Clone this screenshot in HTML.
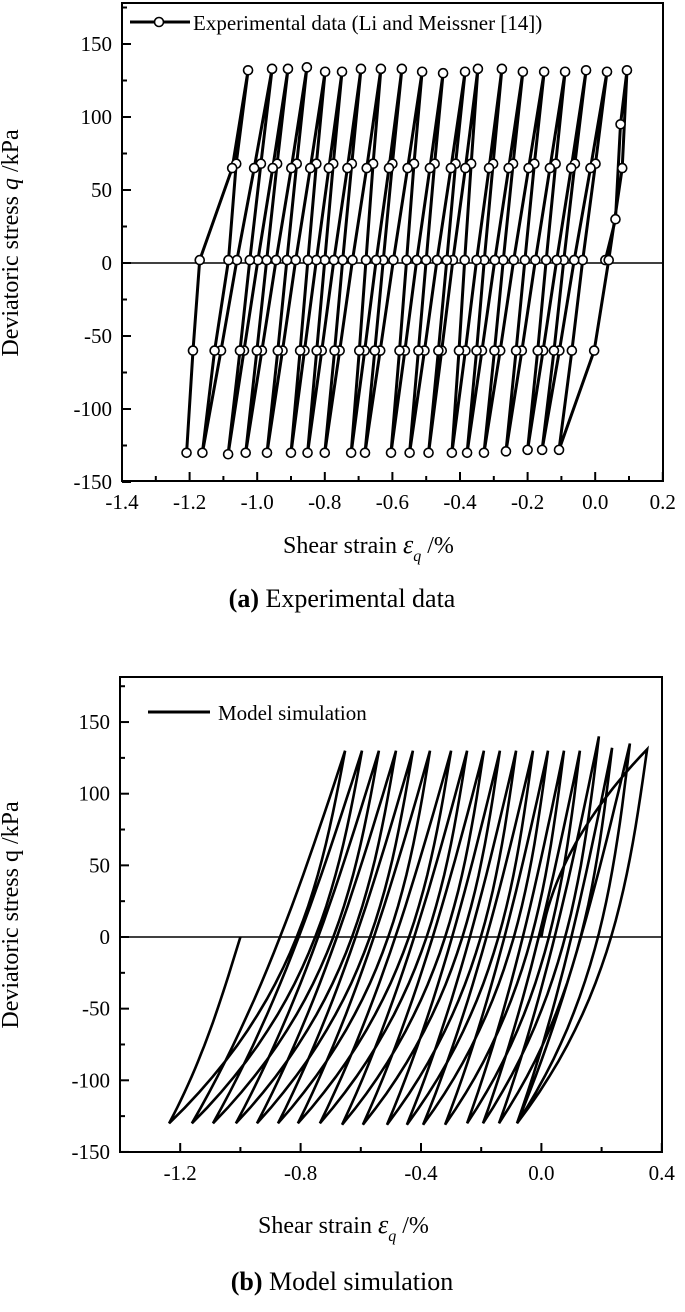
<!DOCTYPE html>
<html><head><meta charset="utf-8"><style>
html,body{margin:0;padding:0;background:#fff;}
svg{display:block;font-family:"Liberation Serif",serif;}
</style></head><body>
<svg id="fig" width="685" height="1312" viewBox="0 0 685 1312" xmlns="http://www.w3.org/2000/svg">
<g id="chartA"></g>
<g id="chartB"></g>
<text x="18" y="243" font-size="24" text-anchor="middle" transform="rotate(-90 18 243)">Deviatoric stress <tspan font-style="italic">q</tspan> /kPa</text>
<text x="283" y="553" font-size="24">Shear strain <tspan font-style="italic" font-size="26">ε</tspan><tspan font-style="italic" font-size="16" dy="8">q</tspan><tspan dy="-8"> /%</tspan></text>
<text x="342" y="607" font-size="26" text-anchor="middle"><tspan font-weight="bold">(a)</tspan> Experimental data</text>
<text x="18" y="915" font-size="24" text-anchor="middle" transform="rotate(-90 18 915)">Deviatoric stress q /kPa</text>
<text x="258" y="1233" font-size="24">Shear strain <tspan font-style="italic" font-size="26">ε</tspan><tspan font-style="italic" font-size="16" dy="8">q</tspan><tspan dy="-8"> /%</tspan></text>
<text x="342" y="1290" font-size="26" text-anchor="middle"><tspan font-weight="bold">(b)</tspan> Model simulation</text>
</svg>
<script>
// ---- Chart A data (experimental) ----
const aPeaks = [-1.027,-0.956,-0.909,-0.853,-0.799,-0.749,-0.693,-0.634,-0.572,-0.512,-0.450,-0.385,-0.347,-0.276,-0.214,-0.151,-0.089,-0.027,0.035,0.094];
const aPeakQ = [132,133,133,134,131,131,133,133,133,131,130,131,133,133,131,131,131,132,131,132];
const aBottoms = [-1.209,-1.162,-1.086,-1.034,-0.971,-0.900,-0.851,-0.800,-0.722,-0.681,-0.604,-0.549,-0.493,-0.424,-0.379,-0.329,-0.264,-0.200,-0.157,-0.107];
const aBottomQ = [-130,-130,-131,-130,-130,-130,-130,-130,-130,-130,-130,-130,-130,-130,-130,-130,-129,-128,-128,-128];
const aDown65 = [-1.074,-1.009,-0.954,-0.899,-0.843,-0.788,-0.733,-0.676,-0.610,-0.555,-0.489,-0.427,-0.384,-0.314,-0.256,-0.197,-0.134,-0.071,-0.014,0.080];
const aDown0 = [-1.170,-1.060,-0.998,-0.944,-0.886,-0.825,-0.773,-0.718,-0.648,-0.597,-0.528,-0.468,-0.421,-0.351,-0.297,-0.241,-0.177,-0.114,-0.062,0.040];
const aDownM60 = [-1.190,-1.107,-1.039,-0.986,-0.925,-0.860,-0.809,-0.756,-0.682,-0.636,-0.563,-0.505,-0.454,-0.384,-0.335,-0.281,-0.217,-0.154,-0.106,-0.003];
const aUpM60 = [-1.126,-1.051,-1.001,-0.939,-0.873,-0.824,-0.771,-0.698,-0.652,-0.579,-0.523,-0.464,-0.403,-0.351,-0.298,-0.234,-0.170,-0.122,-0.069];
const aUp0 = [-1.085,-1.022,-0.972,-0.912,-0.850,-0.800,-0.747,-0.678,-0.627,-0.558,-0.500,-0.439,-0.386,-0.328,-0.272,-0.208,-0.145,-0.093,-0.037];
const aUp65 = [-1.062,-0.989,-0.941,-0.883,-0.825,-0.775,-0.720,-0.657,-0.600,-0.536,-0.475,-0.413,-0.367,-0.302,-0.243,-0.180,-0.117,-0.060,0.001];
const aStartX = [0.030,0.060,0.075];
const aStartQ = [2,30,95];
const aXTicks = [-1.4,-1.2,-1.0,-0.8,-0.6,-0.4,-0.2,0.0,0.2];
const aXLabels = ["-1.4","-1.2","-1.0","-0.8","-0.6","-0.4","-0.2","0.0","0.2"];
const aYTicks = [-150,-100,-50,0,50,100,150];

// ---- Chart B data (model) ----
const bTops = [-0.652,-0.596,-0.540,-0.483,-0.427,-0.370,-0.300,-0.247,-0.191,-0.138,-0.084,-0.028,0.022,0.075,0.128,0.191,0.235,0.294,0.351];
const bTopQ = [130,130,130,130,130,130,130,130,130,130,130,130,130,130,130,140,132,135,131];
const bBottoms = [-1.237,-1.161,-1.091,-1.015,-0.945,-0.875,-0.809,-0.736,-0.662,-0.593,-0.513,-0.447,-0.393,-0.320,-0.247,-0.194,-0.141,-0.081,-0.081];
const bBottomQ = [-130,-130,-130,-130,-130,-130,-130,-130,-131,-131,-131,-131,-131,-131,-130,-130,-130,-130,-130];
const bStart = [0.0, 0];
const bEnd = [-1.0, 0];
const bXTicks = [-1.2,-0.8,-0.4,0.0,0.4];
const bXLabels = ["-1.2","-0.8","-0.4","0.0","0.4"];
const bYTicks = [-150,-100,-50,0,50,100,150];

const NS = "http://www.w3.org/2000/svg";
function mk(parent, tag, attrs, text){
  const e = document.createElementNS(NS, tag);
  for (const k in attrs) e.setAttribute(k, attrs[k]);
  if (text !== undefined) e.textContent = text;
  parent.appendChild(e); return e;
}

function drawAxes(g, L, R, T, B, xs, ys, xTicks, xLabels, xMinorStep, yTicks, xMin, xMax){
  const box = mk(g,'rect',{x:L,y:T,width:R-L,height:B-T,fill:'none',stroke:'#000','stroke-width':2});
  
  
  const zero = mk(g,'line',{x1:L,x2:R,y1:ys(0),y2:ys(0),stroke:'#000','stroke-width':1.5});
  
  
  for (let v = xMin; v <= xMax + 1e-9; v += xMinorStep){
    const major = xTicks.some(t => Math.abs(t - v) < 1e-6);
    const x = xs(v);
    const t = mk(g,'line',{x1:x,x2:x,y1:B,y2:B-(major?9:5),stroke:'#000','stroke-width':2});
    
    
  }
  xTicks.forEach((v,i)=>{
    const t = mk(g,'text',{x:xs(v),y:B+28,'font-size':21,'text-anchor':'middle'},xLabels[i]);
    
    
  });
  for (let v = -150; v <= 175; v += 25){
    const major = yTicks.includes(v);
    const y = ys(v);
    const t = mk(g,'line',{x1:L,x2:L+(major?9:5),y1:y,y2:y,stroke:'#000','stroke-width':2});
    
    
  }
  yTicks.forEach(v=>{
    const t = mk(g,'text',{x:L-10,y:ys(v)+7,'font-size':21,'text-anchor':'end'},String(v));
    
    
  });
}

// ---------- Chart A ----------
(function(){
  const g = document.getElementById('chartA');
  const L=122,R=663,T=3,B=481;
  const xs = v => L + (v + 1.4) * 338;
  const ys = q => 263 - q * 1.46;
  drawAxes(g,L,R,T,B,xs,ys,aXTicks,aXLabels,0.1,aYTicks,-1.4,0.2);
  const pts = [];
  aStartX.forEach((x,i)=>pts.push([x,aStartQ[i]]));
  for (let i = aPeaks.length - 1; i >= 0; i--){
    pts.push([aPeaks[i],aPeakQ[i]]);
    pts.push([aDown65[i],65]);
    pts.push([aDown0[i],2]);
    pts.push([aDownM60[i],-60]);
    pts.push([aBottoms[i],aBottomQ[i]]);
    if (i > 0){
      pts.push([aUpM60[i-1],-60]);
      pts.push([aUp0[i-1],2]);
      pts.push([aUp65[i-1],68]);
    }
  }
  const d = pts.map((p,i)=>(i?'L':'M')+xs(p[0]).toFixed(1)+' '+ys(p[1]).toFixed(1)).join(' ');
  const line = mk(g,'path',{d:d,fill:'none',stroke:'#000','stroke-width':3,'stroke-linejoin':'round'});
  
  
  pts.forEach(p=>{
    const c = mk(g,'circle',{cx:xs(p[0]),cy:ys(p[1]),r:4.5,fill:'#fff',stroke:'#000','stroke-width':1.6});
    
    
  });
  const lg = mk(g,'g',{});
  
  
  mk(lg,'line',{x1:130,x2:190,y1:22,y2:22,stroke:'#000','stroke-width':3});
  mk(lg,'circle',{cx:159,cy:22,r:4.5,fill:'#fff',stroke:'#000','stroke-width':1.6});
  const lt = mk(lg,'text',{x:193,y:30,'font-size':21},'Experimental data (Li and Meissner [14])');
  
  
})();

// ---------- Chart B ----------
(function(){
  const g = document.getElementById('chartB');
  const L=120,R=662,T=677,B=1152;
  const xs = v => L + (v + 1.4) * 301;
  const ys = q => 937 - q * 1.433;
  drawAxes(g,L,R,T,B,xs,ys,bXTicks,bXLabels,0.2,bYTicks,-1.4,0.4);
  const N = 24;
  const seg = [];
  function down(x0,q0,x1,q1){
    for (let k=1;k<=N;k++){const s=k/N;const f=0.4*s+0.6*s*s*s;seg.push([x0+(x1-x0)*f,q0+(q1-q0)*s]);}
  }
  function up(x0,q0,x1,q1){
    for (let k=1;k<=N;k++){const u=k/N;const w=1-u;const f=1-(0.8*w+0.2*w*w*w);seg.push([x0+(x1-x0)*f,q0+(q1-q0)*u]);}
  }
  function initial(x0,q0,x1,q1){
    for (let k=1;k<=N;k++){const u=k/N;const f=0.3*u+0.7*u*u;seg.push([x0+(x1-x0)*f,q0+(q1-q0)*u]);}
  }
  seg.push([bStart[0],bStart[1]]);
  const n = bTops.length;
  initial(bStart[0],bStart[1],bTops[n-1],bTopQ[n-1]);
  for (let i = n-1; i >= 0; i--){
    down(bTops[i],bTopQ[i],bBottoms[i],bBottomQ[i]);
    if (i > 0) up(bBottoms[i],bBottomQ[i],bTops[i-1],bTopQ[i-1]);
  }
  up(bBottoms[0],bBottomQ[0],bEnd[0],bEnd[1]);
  const d = seg.map((p,i)=>(i?'L':'M')+xs(p[0]).toFixed(1)+' '+ys(p[1]).toFixed(1)).join(' ');
  const line = mk(g,'path',{d:d,fill:'none',stroke:'#000','stroke-width':2.6,'stroke-linejoin':'miter'});
  
  
  const lg = mk(g,'g',{});
  
  
  mk(lg,'line',{x1:148,x2:210,y1:712,y2:712,stroke:'#000','stroke-width':3});
  const lt = mk(lg,'text',{x:218,y:720,'font-size':21},'Model simulation');
  
  
})();
</script>
</body></html>
